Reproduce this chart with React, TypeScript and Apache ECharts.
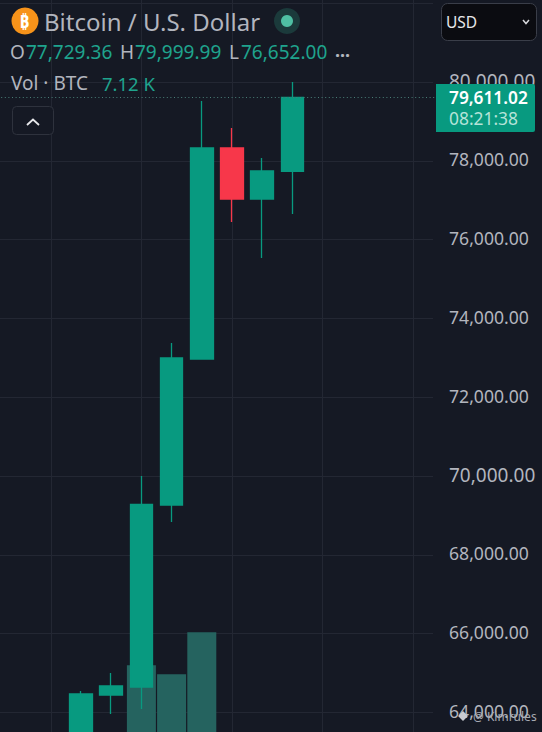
import React, { useEffect, useRef } from "react";
import * as echarts from "echarts";

const categories = ["b0","b1","b2","b3","b4","b5","b6","b7","b8","b9","b10","b11","b12","b13","b14","b15"];
const NO: any[] = ["-", "-", "-", "-"];
// [open, close, low, high]
const candles: any[][] = [
  NO, NO, NO,
  [63200, 64467, 63000, 64543],
  [64442, 64670, 63959, 65000],
  [64645, 69277, 64086, 70000],
  [69264, 72995, 68832, 73376],
  [72970, 78325, 72970, 79518],
  [78325, 77030, 76447, 78832],
  [77030, 77741, 75533, 78071],
  [77729.36, 79611.02, 76652, 79999.99],
  NO, NO, NO, NO, NO,
];
const volumes: any[] = ["-", "-", "-", 10, 9, 25.3, 23.5, 31.9, 11, 9, 7.12, "-", "-", "-", "-", "-"];
const lastPrice = 79611.02;
const bigTicks = [80000, 70000];

const BG = "#151924";
const GRID = "#232733";
const GREEN = "#089a80";
const GREEN_TEXT = "#1fa38d";
const RED = "#f7374a";
const GRAY = "#b2b5be";
const FONT = "'Noto Sans', sans-serif";

const fmt = (v: number) =>
  v.toLocaleString("en-US", { minimumFractionDigits: 2, maximumFractionDigits: 2 });

const txt = (text: string, x: number, y: number, fontSize: number, fill: string, extra: any = {}) => ({
  type: "text",
  z: 30,
  x,
  y,
  style: { text, fontSize, fill, fontFamily: FONT, verticalAlign: "middle", ...extra },
});

export default function App() {
  const ref = useRef<HTMLDivElement>(null);
  useEffect(() => {
    const chart = echarts.init(ref.current!, null, { renderer: "svg" });
    chart.setOption({
      animation: false,
      backgroundColor: BG,
      grid: { left: -9.6, top: -75.6, width: 453, height: 866.8, containLabel: false, outerBoundsMode: "none" },
      xAxis: {
        type: "category",
        data: categories,
        boundaryGap: false,
        axisLine: { show: false },
        axisTick: { show: false },
        axisLabel: { show: false },
        splitLine: {
          show: true,
          interval: (i: number) => i % 3 === 2,
          lineStyle: { color: GRID, width: 1 },
        },
      },
      yAxis: [
        {
          type: "value",
          min: 62000,
          max: 84000,
          interval: 2000,
          position: "left",
          axisLine: { show: false },
          axisTick: { show: false },
          axisLabel: { show: false },
          splitLine: { show: true, lineStyle: { color: GRID, width: 1 } },
          z: 0,
        },
        {
          type: "value",
          min: 62000,
          max: 84000,
          interval: 2000,
          position: "right",
          z: 10,
          axisLine: { show: false },
          axisTick: { show: false },
          splitLine: { show: false },
          axisLabel: {
            margin: 5.6,
            color: GRAY,
            fontFamily: FONT,
            fontSize: 17.6,
            padding: [0, 0, 3, 0],
            formatter: (v: number) =>
              v > 80000 || v < 64000 ? "" : bigTicks.includes(v) ? `{b|${fmt(v)}}` : fmt(v),
            rich: { b: { fontSize: 19, fontFamily: FONT, color: GRAY } },
          },
        },
        {
          type: "value",
          min: 0,
          max: 174,
          position: "left",
          show: false,
          splitLine: { show: false },
        },
      ],
      series: [
        {
          type: "bar",
          yAxisIndex: 2,
          data: volumes,
          barWidth: 29,
          itemStyle: { color: "#25635f" },
          silent: true,
          z: 1,
        },
        {
          type: "candlestick",
          yAxisIndex: 0,
          data: candles,
          barWidth: 23,
          z: 2,
          itemStyle: {
            color: GREEN,
            color0: RED,
            borderColor: GREEN,
            borderColor0: RED,
            borderWidth: 1.3,
          },
          markLine: {
            silent: true,
            symbol: "none",
            label: { show: false },
            lineStyle: { color: "#4a7f78", type: [1, 2.6], width: 1 },
            data: [{ yAxis: lastPrice }],
          },
        },
      ],
      graphic: [
        { type: "rect", z: 5, shape: { x: 433, y: 0, width: 109, height: 732 }, style: { fill: BG } },
        // price tag
        { type: "rect", z: 20, shape: { x: 436, y: 84, width: 99, height: 48, r: [0, 2, 2, 0] }, style: { fill: GREEN } },
        txt(fmt(lastPrice), 449, 97, 17.3, "#ffffff", { fontWeight: 600 }),
        txt("08:21:38", 449, 118, 17.4, "#b5e3d8"),
        // currency selector
        { type: "rect", z: 20, shape: { x: 441.5, y: 3.5, width: 95, height: 37, r: 6 }, style: { fill: "#0b0c11", stroke: "#3a3e49", lineWidth: 1 } },
        txt("USD", 446, 22, 15.5, "#e6e7ea"),
        { type: "polyline", z: 30, shape: { points: [[523, 20], [526, 23.5], [529, 20]] }, style: { stroke: "#d8d9dd", lineWidth: 1.5, fill: "none" } },
        // header
        { type: "circle", z: 20, shape: { cx: 25, cy: 21, r: 13.5 }, style: { fill: "#f7931a" } },
        txt("₿", 19.5, 21, 17, "#ffffff", { fontWeight: 700 }),
        txt("Bitcoin / U.S. Dollar", 44, 21, 24, GRAY),
        { type: "circle", z: 20, shape: { cx: 287, cy: 21, r: 13 }, style: { fill: "#1b3a3b" } },
        { type: "circle", z: 21, shape: { cx: 287, cy: 21, r: 6 }, style: { fill: "#4fbfa3" } },
        txt("O", 10, 52, 19, GRAY),
        txt("77,729.36", 26, 52, 19, GREEN_TEXT),
        txt("H", 120, 52, 19, GRAY),
        txt("79,999.99", 135, 52, 19, GREEN_TEXT),
        txt("L", 229, 52, 19, GRAY),
        txt("76,652.00", 241, 52, 19, GREEN_TEXT),
        txt("...", 335, 50, 18, GRAY, { fontWeight: 700 }),
        txt("Vol · BTC", 11, 83, 19, GRAY),
        txt("7.12 K", 102, 83, 18.5, GREEN_TEXT),
        // collapse button
        { type: "rect", z: 20, shape: { x: 12.5, y: 106.5, width: 41, height: 28, r: 4 }, style: { fill: BG, stroke: "#2e323d", lineWidth: 1 } },
        { type: "polyline", z: 21, shape: { points: [[27, 125], [33, 119.5], [39, 125]] }, style: { stroke: "#e8e9ec", lineWidth: 1.8, fill: "none" } },
        // watermark
        { type: "rect", z: 30, x: 463, y: 716, rotation: Math.PI / 4, shape: { x: -3.5, y: -3.5, width: 7, height: 7 }, style: { fill: "#c9cbd1" } },
        txt("@ Kimrules", 473, 716, 12, "#a8abb3"),
      ],
    });
    return () => chart.dispose();
  }, []);
  return (
    <div style={{ position: "fixed", left: 0, top: 0, width: 542, height: 732, overflow: "hidden" }}>
      <div ref={ref} style={{ width: 542, height: 732 }} />
    </div>
  );
}
